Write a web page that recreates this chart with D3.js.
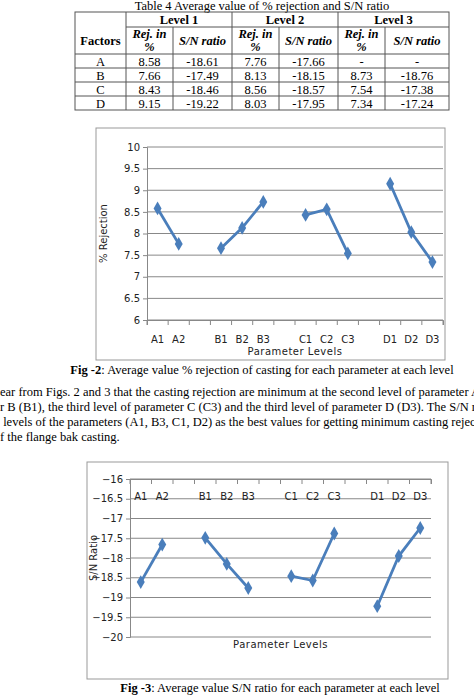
<!DOCTYPE html>
<html><head><meta charset="utf-8">
<script src="https://cdn.jsdelivr.net/npm/d3@7"></script>
<style>body{margin:0;background:#fff}svg{display:block}</style>
</head><body>
<script>
const factors = ["A", "B", "C", "D"];
const levelHeads = ["Level 1", "Level 2", "Level 3"];
const rejRows = [["8.58", "7.76", "-"], ["7.66", "8.13", "8.73"], ["8.43", "8.56", "7.54"], ["9.15", "8.03", "7.34"]];
const snRows = [["-18.61", "-17.66", "-"], ["-17.49", "-18.15", "-18.76"], ["-18.46", "-18.57", "-17.38"], ["-19.22", "-17.95", "-17.24"]];
const slots = ["A1", "A2", "g1", "B1", "B2", "B3", "g2", "C1", "C2", "C3", "g3", "D1", "D2", "D3"];
const groups = [["A1", "A2"], ["B1", "B2", "B3"], ["C1", "C2", "C3"], ["D1", "D2", "D3"]];
const rejection = [[8.58, 7.76], [7.66, 8.13, 8.73], [8.43, 8.56, 7.54], [9.15, 8.03, 7.34]];
const snRatio = [[-18.61, -17.66], [-17.49, -18.15, -18.76], [-18.46, -18.57, -17.38], [-19.22, -17.95, -17.24]];
const rejTicks = [6, 6.5, 7, 7.5, 8, 8.5, 9, 9.5, 10];
const snTicks = [-20, -19.5, -19, -18.5, -18, -17.5, -17, -16.5, -16];
const paragraph = [
  "ear from Figs. 2 and 3 that the casting rejection are minimum at the second level of parameter A (A",
  "r B (B1), the third level of parameter C (C3) and the third level of parameter D (D3). The S/N ratio",
  " levels of the parameters (A1, B3, C1, D2) as the best values for getting minimum casting rejectio",
  "f the flange bak casting."
];

const serif = "Liberation Serif, Times New Roman, serif";
const sans = "DejaVu Sans, Verdana, sans-serif";
const blue = "#4a7ebb";
const svg = d3.select("body").append("svg").attr("width", 474).attr("height", 696);

// table
svg.append("text").attr("x", 262).attr("y", 10).attr("text-anchor", "middle")
  .attr("font-family", serif).attr("font-size", 12.5).text("Table 4 Average value of % rejection and S/N ratio");
const colX = [75, 126, 173, 232, 279, 338, 385, 449];
const rowY = [12, 27, 54, 68, 82, 96, 110];
const tg = svg.append("g").attr("stroke", "#555").attr("stroke-width", 1);
tg.append("rect").attr("x", 75).attr("y", 12).attr("width", 374).attr("height", 98).attr("fill", "none");
colX.slice(1, -1).forEach((x, i) => {
  const top = (i % 2 === 0) ? 12 : 27;
  tg.append("line").attr("x1", x).attr("x2", x).attr("y1", top).attr("y2", 110);
});
tg.append("line").attr("x1", 126).attr("x2", 449).attr("y1", 27).attr("y2", 27);
rowY.slice(2, -1).forEach(y => tg.append("line").attr("x1", 75).attr("x2", 449).attr("y1", y).attr("y2", y));
const txt = (x, y, s, opt = {}) => svg.append("text").attr("x", x).attr("y", y).attr("text-anchor", "middle")
  .attr("font-family", serif).attr("font-size", 12.5).attr("font-weight", opt.bold ? "bold" : null)
  .attr("font-style", opt.italic ? "italic" : null).text(s);
txt(100.5, 45, "Factors", { bold: true });
levelHeads.forEach((h, i) => txt((colX[1 + 2 * i] + colX[3 + 2 * i]) / 2, 24, h, { bold: true }));
for (let i = 0; i < 3; i++) {
  const a = colX[1 + 2 * i], b = colX[2 + 2 * i], c = colX[3 + 2 * i];
  txt((a + b) / 2, 38, "Rej. in", { bold: true, italic: true });
  txt((a + b) / 2, 51, "%", { bold: true, italic: true });
  txt((b + c) / 2, 45, "S/N ratio", { bold: true, italic: true });
}
factors.forEach((f, r) => {
  const y = rowY[2 + r] + 11.5;
  txt(100.5, y, f);
  for (let i = 0; i < 3; i++) {
    txt((colX[1 + 2 * i] + colX[2 + 2 * i]) / 2, y, rejRows[r][i]);
    txt((colX[2 + 2 * i] + colX[3 + 2 * i]) / 2, y, snRows[r][i]);
  }
});

function chart({ box, plot, ticks, data, yLabel, yLabelX, labelY, titleY, xTop }) {
  svg.append("rect").attr("x", box[0]).attr("y", box[1]).attr("width", box[2]).attr("height", box[3])
    .attr("fill", "#fff").attr("stroke", "#999").attr("stroke-width", 1);
  const x = d3.scaleBand().domain(slots).range([plot[0], plot[1]]);
  const y = d3.scaleLinear().domain([ticks[0], ticks[ticks.length - 1]]).range([plot[3], plot[2]]);
  const g = svg.append("g");
  ticks.forEach(t => {
    g.append("line").attr("x1", plot[0]).attr("x2", plot[1]).attr("y1", y(t)).attr("y2", y(t))
      .attr("stroke", "#888").attr("stroke-width", 1);
  });
  const yAxis = g.append("g").attr("transform", `translate(${plot[0]},0)`)
    .call(d3.axisLeft(y).tickValues(ticks).tickSize(4).tickFormat(d3.format("")));
  yAxis.selectAll("line,path").attr("stroke", "#888");
  yAxis.selectAll("text").attr("font-family", sans).attr("font-size", 10).attr("fill", "#222");
  const axY = xTop ? plot[2] : plot[3];
  const xAxis = g.append("g").attr("transform", `translate(0,${axY})`)
    .call((xTop ? d3.axisBottom(x) : d3.axisBottom(x)).tickSize(xTop ? 5 : 5).tickFormat(""));
  xAxis.selectAll(".tick").remove();
  xAxis.select("path").attr("stroke", "#888");
  slots.concat(["end"]).forEach((s, i) => {
    const xx = plot[0] + i * x.step();
    xAxis.append("line").attr("x1", xx).attr("x2", xx).attr("y1", 0).attr("y2", 5).attr("stroke", "#888");
  });
  groups.forEach(grp => grp.forEach(c => {
    g.append("text").attr("x", x(c) + x.bandwidth() / 2).attr("y", labelY).attr("text-anchor", "middle")
      .attr("font-family", sans).attr("font-size", 10).attr("fill", "#222").text(c);
  }));
  g.append("text").attr("x", (plot[0] + plot[1]) / 2).attr("y", titleY).attr("text-anchor", "middle")
    .attr("font-family", sans).attr("font-size", 10).attr("fill", "#222").attr("letter-spacing", 0.5).text("Parameter Levels");
  g.append("text").attr("transform", `translate(${yLabelX},${(plot[2] + plot[3]) / 2}) rotate(-90)`)
    .attr("text-anchor", "middle").attr("font-family", sans).attr("font-size", 10).attr("fill", "#222").text(yLabel);
  const line = d3.line().x(d => x(d[0]) + x.bandwidth() / 2).y(d => y(d[1]));
  groups.forEach((grp, gi) => {
    const pts = grp.map((c, j) => [c, data[gi][j]]);
    g.append("path").attr("d", line(pts)).attr("fill", "none").attr("stroke", blue).attr("stroke-width", 2.8);
    g.selectAll(null).data(pts).join("path")
      .attr("transform", d => `translate(${x(d[0]) + x.bandwidth() / 2},${y(d[1])})`)
      .attr("d", d3.symbol().type(d3.symbolDiamond).size(55)).attr("fill", blue);
  });
}

chart({ box: [96, 128, 349, 232], plot: [147, 443, 147, 320], ticks: rejTicks, data: rejection,
  yLabel: "% Rejection", yLabelX: 107, labelY: 343, titleY: 355, xTop: false });

const cap = (x, y, b, s) => {
  const t = svg.append("text").attr("x", x).attr("y", y).attr("text-anchor", "middle")
    .attr("font-family", serif).attr("font-size", 12.5);
  t.append("tspan").attr("font-weight", "bold").text(b);
  t.append("tspan").text(s);
};
cap(262, 374, "Fig -2", ": Average value % rejection of casting for each parameter at each level");

paragraph.forEach((l, i) => {
  svg.append("text").attr("x", 0).attr("y", 396 + i * 15).attr("font-family", serif).attr("font-size", 12.5)
    .attr("xml:space", "preserve").style("white-space", "pre").text(l);
});

chart({ box: [87, 462, 361, 217], plot: [130, 431, 479, 637], ticks: snTicks, data: snRatio,
  yLabel: "S/N Ratio", yLabelX: 97, labelY: 500, titleY: 648, xTop: true });

cap(280, 692, "Fig -3", ": Average value S/N ratio for each parameter at each level");
</script>
</body></html>
